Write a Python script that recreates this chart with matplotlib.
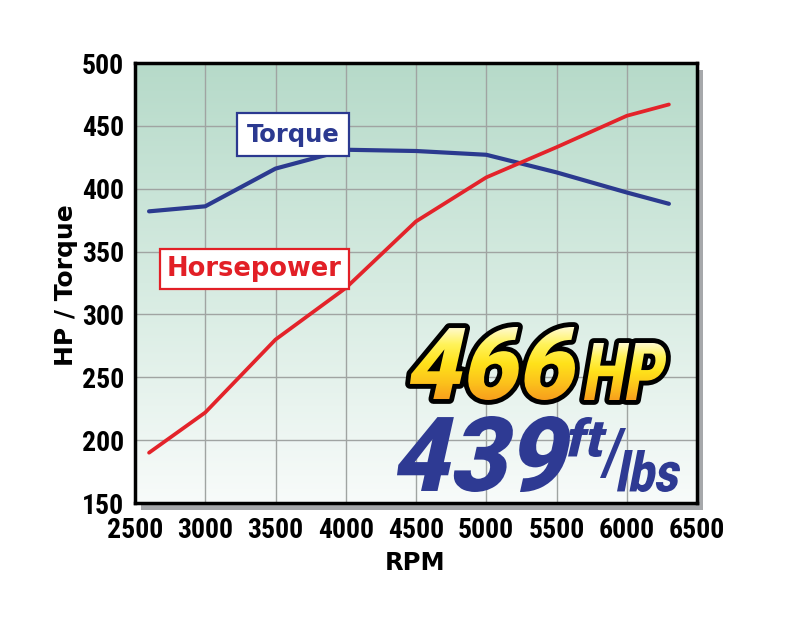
import numpy as np
import matplotlib
matplotlib.use('Agg')
import matplotlib.pyplot as plt
from matplotlib import font_manager
from matplotlib.textpath import TextPath
from matplotlib.font_manager import FontProperties
from matplotlib.patches import PathPatch, Rectangle
from matplotlib.transforms import Affine2D
from matplotlib.colors import LinearSegmentedColormap, to_rgb

# data
rpm = [2600, 3000, 3500, 4000, 4500, 5000, 5500, 6000, 6300]
torque = [382, 386, 416, 431, 430, 427, 413, 397, 388]
horsepower = [190, 222, 280, 321, 374, 409, 433, 458, 467]
x_ticks = [2500, 3000, 3500, 4000, 4500, 5000, 5500, 6000, 6500]
y_ticks = [150, 200, 250, 300, 350, 400, 450, 500]
peak_hp = '466'
peak_tq = '439'

W, H = 785, 621
names = {f.name for f in font_manager.fontManager.ttflist}


def pick(*cands):
    for c in cands:
        if c in names:
            return c
    return 'DejaVu Sans'


tick_font = pick('Liberation Sans Narrow', 'Roboto Condensed', 'Roboto')
big_font = pick('Roboto', 'Lato')

fig = plt.figure(figsize=(W / 100, H / 100), dpi=100)
fig.patch.set_facecolor('white')

# plot frame (pixel coords of the reference, top-down)
left, right, top, bottom = 135, 697, 63, 503
ax = fig.add_axes([left / W, 1 - bottom / H, (right - left) / W, (bottom - top) / H])

# drop shadow behind the frame
fig.add_artist(Rectangle(((left + 6) / W, 1 - (bottom + 7) / H), (right - left) / W, (bottom - top) / H,
                         transform=fig.transFigure, facecolor='#a6a8ab', edgecolor='none', zorder=-1))

bg = LinearSegmentedColormap.from_list('bg', ['#f8fbfa', '#d6ebe1', '#b6dac9'])
ax.imshow(np.linspace(0, 1, 256).reshape(-1, 1)[::-1], extent=[2500, 6500, 150, 500],
          aspect='auto', cmap=bg, zorder=0)

ax.plot(rpm, torque, color='#2b3a8f', lw=3.0, solid_capstyle='round', zorder=3)
ax.plot(rpm, horsepower, color='#e3232a', lw=2.7, solid_capstyle='round', zorder=3)

ax.set_xlim(2500, 6500)
ax.set_ylim(150, 500)
ax.set_xticks(x_ticks)
ax.set_yticks(y_ticks)
ax.grid(True, color='#a0a4a2', lw=1.0)
ax.tick_params(axis='x', length=0, pad=10)
ax.tick_params(axis='y', length=0, pad=8)
for lab in ax.get_xticklabels() + ax.get_yticklabels():
    lab.set_fontfamily(tick_font)
    lab.set_fontweight('heavy')
    lab.set_fontsize(20)
for sp in ax.spines.values():
    sp.set_linewidth(2.5)
    sp.set_color('black')

ax.set_xlabel('RPM', fontsize=17.5, fontweight='bold')
ax.set_ylabel('HP / Torque', fontsize=18, fontweight='bold')
ax.xaxis.set_label_coords(0.498, -0.108)
ax.yaxis.set_label_coords(-0.101, 0.495)

ax.text(3624, 443, 'Torque', fontsize=17.5, fontweight='bold', color='#2b3990',
        ha='center', va='center', zorder=4,
        bbox=dict(boxstyle='square,pad=0.38', fc='white', ec='#2b3990', lw=1.6))
ax.text(3350, 336, 'Horsepower', fontsize=18.5, fontweight='bold', color='#e21f26',
        ha='center', va='center', zorder=4,
        bbox=dict(boxstyle='square,pad=0.27', fc='white', ec='#e21f26', lw=1.6))

# overlay in reference pixel coords for the big headline numbers
ov = fig.add_axes([0, 0, 1, 1], zorder=3)
ov.set_axis_off()
ov.patch.set_alpha(0)

big = FontProperties(family=big_font, weight='heavy')


def fit_text(s, x0, y0, x1, y1, slant=13):
    tp = TextPath((0, 0), s, size=100, prop=big)
    p = Affine2D().skew_deg(slant, 0).transform_path(tp)
    bb = p.get_extents()
    t = (Affine2D().translate(-bb.x0, -bb.y0)
         .scale((x1 - x0) / bb.width, -(y1 - y0) / bb.height)
         .translate(x0, y1))
    return t.transform_path(p)


grad = np.array([to_rgb(c) for c in ['#fffbe0', '#fff35a', '#ffe21a', '#fcc21c', '#f79a1c']])
rows = np.linspace(0, len(grad) - 1, 200)
img = np.stack([np.interp(rows, np.arange(len(grad)), grad[:, k]) for k in range(3)], axis=-1)
img = img.reshape(-1, 1, 3)

for s, box in [(peak_hp, (410, 327, 575, 400)), ('HP', (584, 343, 666, 400))]:
    path = fit_text(s, *box)
    ov.add_patch(PathPatch(path, fc='black', ec='black', lw=7, joinstyle='round'))
    clip = PathPatch(path, fc='none', ec='none')
    ov.add_patch(clip)
    im = ov.imshow(img, extent=[box[0] - 10, box[2] + 10, box[3] + 2, box[1] - 2],
                   aspect='auto', zorder=3)
    im.set_clip_path(clip)

blue = '#2e3a93'
for s, box in [(peak_tq, (397, 416, 570, 492)), ('ft', (568, 417, 607, 457)),
               ('/', (600, 428, 626, 478)), ('lbs', (617, 450, 680, 492))]:
    ov.add_patch(PathPatch(fit_text(s, *box), fc=blue, ec='none', zorder=4))

ov.set_xlim(0, W)
ov.set_ylim(H, 0)

fig.savefig('out.png', dpi=100)
